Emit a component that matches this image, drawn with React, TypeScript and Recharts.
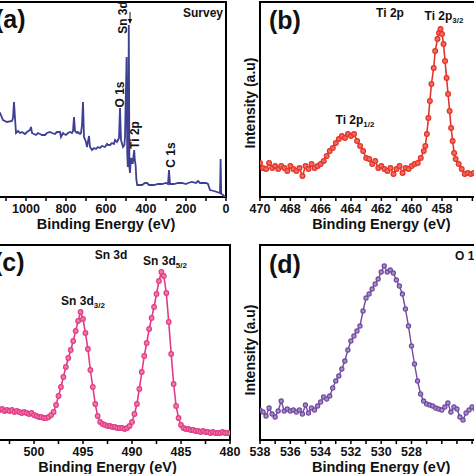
import { LineChart, Line, XAxis, YAxis, ReferenceArea } from 'recharts'

// (a) survey
const surveyEnergy = [1140, 1130, 1115, 1095, 1070, 1065, 1060, 1055, 1050, 1040, 1030, 1020, 1005, 995, 980, 975, 970, 960, 950, 940, 930, 920, 905, 895, 880, 870, 855, 845, 830, 825, 815, 810, 800, 790, 780, 770, 765, 760, 755, 745, 740, 730, 725, 720, 715, 710, 700, 695, 685, 680, 670, 660, 650, 640, 630, 620, 605, 595, 590, 580, 570, 560, 555, 545, 540, 535, 530, 525, 515, 508, 505, 497, 494, 491, 489, 486, 483, 480, 476, 474, 470, 466, 462, 459, 456, 452, 448, 444, 440, 420, 405, 395, 385, 360, 340, 320, 300, 290, 285, 280, 260, 240, 220, 200, 190, 170, 150, 140, 130, 100, 90, 80, 60, 45, 30, 27, 24, 15, 5, 0]
const surveyIntensity = [85, 84, 77, 75, 76, 79, 95, 79, 64, 66, 64, 65, 63, 65, 67, 70, 64, 63, 62, 64, 63, 62, 62, 64, 65, 64, 63, 65, 65, 60, 64, 63, 62, 64, 65, 64, 66, 80, 66, 64, 65, 63, 64, 72, 95, 60, 55, 50, 61, 50, 47, 49, 48, 50, 49, 51, 50, 53, 52, 52, 54, 53, 57, 55, 57, 59, 89, 57, 50, 52, 60, 140, 45, 30, 40, 172, 30, 24, 37, 39, 34, 34, 42, 47, 37, 32, 17, 12, 12, 12, 14, 14, 12, 12, 13, 13, 14, 13, 27, 13, 13, 14, 14, 13, 14, 15, 14, 16, 14, 14, 13, 7, 6, 5, 4, 38, 3, 2, 0, 0]
const surveyTicks = [1200, 1100, 1000, 900, 800, 700, 600, 500, 400, 300, 200, 100, 0]
const surveyLabels = [1000, 800, 600, 400, 200, 0]

// (b) Ti 2p
const tiEnergy = [470.0, 469.8, 469.6, 469.4, 469.2, 469.0, 468.8, 468.6, 468.4, 468.2, 468.0, 467.8, 467.6, 467.4, 467.2, 467.0, 466.8, 466.6, 466.4, 466.2, 466.0, 465.8, 465.6, 465.4, 465.2, 465.0, 464.8, 464.6, 464.4, 464.2, 464.0, 463.8, 463.6, 463.4, 463.2, 463.0, 462.8, 462.6, 462.4, 462.2, 462.0, 461.8, 461.6, 461.4, 461.2, 461.0, 460.8, 460.6, 460.4, 460.2, 460.0, 459.8, 459.6, 459.4, 459.2, 459.1, 459.0, 458.9, 458.8, 458.7, 458.55, 458.45, 458.3, 458.2, 458.1, 458.0, 457.9, 457.8, 457.7, 457.6, 457.5, 457.4, 457.3, 457.2, 457.1, 456.9, 456.7, 456.5, 456.3, 456.1, 455.9, 455.7]
const tiIntensity = [34, 29, 28, 34, 29, 31, 28, 31, 29, 26, 31, 28, 26, 29, 21, 31, 28, 33, 29, 31, 33, 36, 41, 46, 49, 54, 58, 61, 59, 63, 61, 63, 56, 51, 46, 39, 38, 33, 36, 29, 31, 28, 26, 29, 23, 28, 31, 24, 29, 28, 31, 33, 34, 39, 46, 51, 63, 79, 96, 113, 129, 146, 158, 164, 168, 163, 153, 136, 119, 103, 86, 69, 56, 44, 38, 33, 28, 23, 24, 23, 24, 26]
const tiTicks = [470, 469, 468, 467, 466, 465, 464, 463, 462, 461, 460, 459, 458, 457, 456, 455, 454]
const tiLabels = [470, 468, 466, 464, 462, 460, 458]

// (c) Sn 3d
const snEnergy = [505.0, 504.75, 504.5, 504.25, 504.0, 503.75, 503.5, 503.25, 503.0, 502.75, 502.5, 502.25, 502.0, 501.75, 501.5, 501.25, 501.0, 500.75, 500.5, 500.25, 500.0, 499.75, 499.5, 499.25, 499.0, 498.75, 498.5, 498.25, 498.0, 497.75, 497.5, 497.25, 497.0, 496.75, 496.5, 496.25, 496.0, 495.75, 495.5, 495.25, 495.0, 494.75, 494.5, 494.25, 494.0, 493.75, 493.5, 493.25, 493.0, 492.75, 492.5, 492.25, 492.0, 491.75, 491.5, 491.25, 491.0, 490.75, 490.5, 490.25, 490.0, 489.75, 489.5, 489.25, 489.0, 488.75, 488.5, 488.25, 488.0, 487.75, 487.5, 487.25, 487.0, 486.75, 486.5, 486.25, 486.0, 485.75, 485.5, 485.25, 485.0, 484.75, 484.5, 484.25, 484.0, 483.75, 483.5, 483.25, 483.0, 482.75, 482.5, 482.25, 482.0, 481.75, 481.5, 481.25, 481.0, 480.75, 480.5, 480.25, 480.0]
const snIntensity = [31, 30, 31, 29, 31, 30, 30, 31, 29, 30, 29, 30, 28, 29, 28, 27, 28, 27, 26, 27, 25, 24, 23, 23, 22, 22, 23, 25, 28, 35, 44, 53, 63, 73, 82, 90, 99, 109, 119, 128, 121, 107, 91, 70, 53, 36, 24, 18, 16, 15, 14, 14, 13, 13, 12, 12, 12, 11, 12, 14, 18, 26, 36, 51, 68, 84, 97, 111, 122, 133, 146, 159, 168, 164, 147, 118, 86, 56, 34, 22, 15, 12, 11, 11, 10, 10, 9, 9, 8, 9, 8, 8, 7, 8, 7, 7, 7, 8, 7, 7, 7]
const snTicks = [505, 502.5, 500, 497.5, 495, 492.5, 490, 487.5, 485, 482.5, 480]
const snLabels = [500, 495, 490, 485, 480]

// (d) O 1s
const oEnergy = [538.0, 537.8, 537.6, 537.4, 537.2, 537.0, 536.8, 536.6, 536.4, 536.2, 536.0, 535.8, 535.6, 535.4, 535.2, 535.0, 534.8, 534.6, 534.4, 534.2, 534.0, 533.8, 533.6, 533.4, 533.2, 533.0, 532.8, 532.6, 532.4, 532.2, 532.0, 531.8, 531.6, 531.4, 531.2, 531.0, 530.8, 530.6, 530.4, 530.2, 530.0, 529.8, 529.6, 529.4, 529.2, 529.0, 528.8, 528.6, 528.4, 528.2, 528.0, 527.8, 527.6, 527.4, 527.2, 527.0, 526.8, 526.6, 526.4, 526.2, 526.0, 525.8, 525.6, 525.4, 525.2, 525.0, 524.8, 524.6, 524.4, 524.2, 524.0, 523.8, 523.6, 523.4, 523.2, 523.0, 522.8, 522.6, 522.4, 522.2, 522.0]
const oIntensity = [30, 28, 24, 32, 26, 23, 29, 39, 29, 31, 29, 30, 28, 30, 26, 35, 27, 32, 30, 34, 38, 43, 41, 44, 52, 59, 64, 71, 79, 90, 99, 104, 109, 114, 129, 142, 146, 151, 156, 161, 168, 174, 168, 170, 167, 160, 154, 146, 131, 114, 94, 76, 59, 46, 39, 36, 35, 34, 32, 31, 30, 33, 37, 28, 33, 31, 23, 20, 27, 30, 33, 31, 30, 32, 30, 31, 29, 31, 30, 29, 30]
const oTicks = [538, 537, 536, 535, 534, 533, 532, 531, 530, 529, 528, 527, 526, 525, 524, 523, 522]
const oLabels = [538, 536, 534, 532, 530, 528]

const FONT = "'Liberation Sans', Arial, Helvetica, sans-serif"
const PLOT_H = 195
const AXIS_H = 40
const PAD = 16

type Row = { e: number; i: number }

function rows(es: number[], is: number[]): Row[] {
  return es.map((e, k) => ({ e, i: is[k] }))
}

function tickRenderer(labelled: number[]) {
  return (props: any) => {
    const { x, y, payload } = props
    if (!labelled.includes(payload.value)) return <g />
    return (
      <text x={x} y={y} dy="0.71em" textAnchor="middle" fontSize={12.5} fontWeight={700} fill="#111" fontFamily={FONT}>
        {payload.value}
      </text>
    )
  }
}

type PanelProps = {
  left: number
  top: number
  width: number
  data: Row[]
  domain: [number, number]
  ticks: number[]
  labelled: number[]
  color: string
  fill?: string
  lineWidth: number
  dotR?: number
}

function Panel({ left, top, width, data, domain, ticks, labelled, color, fill, lineWidth, dotR }: PanelProps) {
  return (
    <div style={{ position: 'absolute', left: left - PAD, top: top - PAD }}>
      <LineChart
        width={width + PAD * 2}
        height={PLOT_H + AXIS_H + PAD}
        data={data}
        margin={{ top: PAD, right: PAD, bottom: 0, left: PAD }}
      >
        <XAxis
          dataKey="e"
          type="number"
          domain={domain}
          reversed
          ticks={ticks}
          interval={0}
          allowDataOverflow
          axisLine={false}
          tickSize={4}
          tickMargin={3.5}
          tickLine={{ stroke: '#000', strokeWidth: 1.5 }}
          height={AXIS_H}
          tick={tickRenderer(labelled)}
          label={{ value: 'Binding Energy (eV)', position: 'insideBottom', offset: 8, fill: '#111', fontSize: 14.5, fontWeight: 700, fontFamily: FONT }}
        />
        <YAxis hide type="number" domain={[0, PLOT_H]} allowDataOverflow />
        <Line
          type="linear"
          dataKey="i"
          stroke={color}
          strokeWidth={lineWidth}
          dot={dotR ? { r: dotR, fill, stroke: color, strokeWidth: 1.2 } : false}
          activeDot={false}
          isAnimationActive={false}
        />
        <ReferenceArea x1={domain[0]} x2={domain[1]} y1={0} y2={PLOT_H} fill="none" stroke="#000" strokeWidth={2} />
      </LineChart>
    </div>
  )
}

const txt = { fontFamily: FONT, fontWeight: 700, fill: '#111' } as const

export default function App() {
  return (
    <div style={{ position: 'absolute', left: 0, top: 0, width: 474, height: 474, overflow: 'hidden', background: '#fff', fontFamily: FONT }}>
      <Panel left={-14} top={1.5} width={240} data={rows(surveyEnergy, surveyIntensity)} domain={[0, 1200]} ticks={surveyTicks} labelled={surveyLabels} color="#3f3f94" lineWidth={1.8} />
      <Panel left={260} top={1.5} width={242.7} data={rows(tiEnergy, tiIntensity)} domain={[454, 470]} ticks={tiTicks} labelled={tiLabels} color="#e3342a" fill="#f46a5e" lineWidth={1.6} dotR={2.4} />
      <Panel left={-15} top={245} width={245} data={rows(snEnergy, snIntensity)} domain={[480, 505]} ticks={snTicks} labelled={snLabels} color="#e03c84" fill="#f07aae" lineWidth={1.6} dotR={2.3} />
      <Panel left={260} top={245} width={242.4} data={rows(oEnergy, oIntensity)} domain={[522, 538]} ticks={oTicks} labelled={oLabels} color="#6f4a9e" fill="#a88bc9" lineWidth={1.4} dotR={2.1} />

      <svg width={474} height={474} style={{ position: 'absolute', left: 0, top: 0, pointerEvents: 'none' }}>
        {/* panel letters */}
        <text x={-5} y={28} fontSize={25} {...txt}>(a)</text>
        <text x={269} y={29} fontSize={25} {...txt}>(b)</text>
        <text x={-6} y={271} fontSize={25} {...txt}>(c)</text>
        <text x={269} y={273} fontSize={25} {...txt}>(d)</text>

        {/* (a) survey */}
        <text x={223} y={17} fontSize={12} textAnchor="end" {...txt}>Survey</text>
        <text transform="translate(126.5,17.5) rotate(-90)" fontSize={12} textAnchor="middle" {...txt}>Sn 3d</text>
        <path d="M130 12 V21" stroke="#111" strokeWidth={1} />
        <path d="M127.8 19 L130 24 L132.2 19 Z" fill="#111" />
        <text transform="translate(124,94.5) rotate(-90)" fontSize={12} textAnchor="middle" {...txt}>O 1s</text>
        <text transform="translate(139,135) rotate(-90)" fontSize={12} textAnchor="middle" {...txt}>Ti 2p</text>
        <text transform="translate(174.5,155) rotate(-90)" fontSize={12} textAnchor="middle" {...txt}>C 1s</text>

        {/* (b) Ti 2p */}
        <text x={390} y={17} fontSize={12} textAnchor="middle" {...txt}>Ti 2p</text>
        <text x={444} y={19.5} fontSize={12} textAnchor="middle" {...txt}>
          Ti 2p<tspan fontSize={8} dy={3}>3/2</tspan>
        </text>
        <text x={355} y={124} fontSize={12} textAnchor="middle" {...txt}>
          Ti 2p<tspan fontSize={8} dy={3}>1/2</tspan>
        </text>
        <text transform="translate(255,103) rotate(-90)" fontSize={14} textAnchor="middle" {...txt}>Intensity (a.u)</text>

        {/* (c) Sn 3d */}
        <text x={111} y={259} fontSize={12} textAnchor="middle" {...txt}>Sn 3d</text>
        <text x={165} y={265} fontSize={12} textAnchor="middle" {...txt}>
          Sn 3d<tspan fontSize={8} dy={3}>5/2</tspan>
        </text>
        <text x={83} y={305} fontSize={12} textAnchor="middle" {...txt}>
          Sn 3d<tspan fontSize={8} dy={3}>3/2</tspan>
        </text>

        {/* (d) O 1s */}
        <text x={455} y={260} fontSize={12} {...txt}>O 1s</text>
        <text transform="translate(255,350) rotate(-90)" fontSize={14} textAnchor="middle" {...txt}>Intensity (a.u)</text>
      </svg>
    </div>
  )
}
